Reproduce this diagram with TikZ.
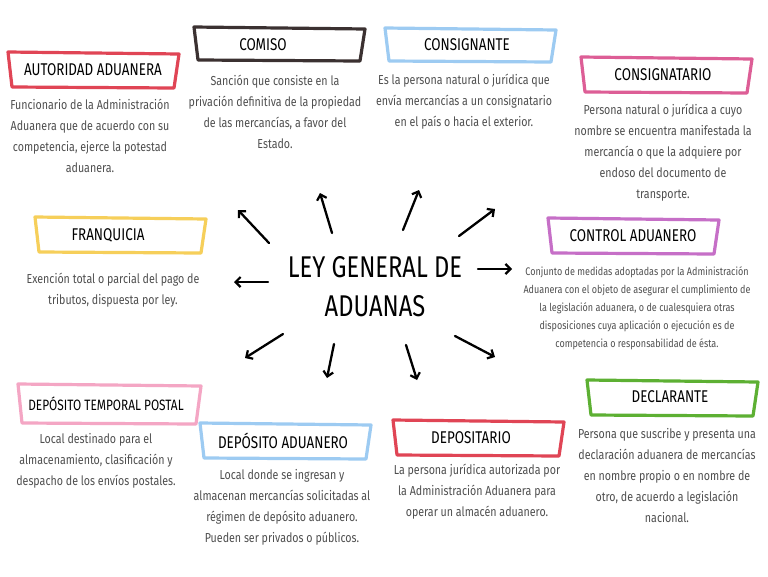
\documentclass[tikz,border=0pt]{standalone}
\usepackage{fontspec}
\setmainfont{Fira Sans}
\newfontfamily\ttlfont[FakeStretch=0.79]{Fira Sans}
\newfontfamily\bigfont[FakeStretch=0.79]{Fira Sans}
\newfontfamily\bdfont[FakeStretch=0.82]{Fira Sans}
\usetikzlibrary{arrows.meta}
\definecolor{cred}{HTML}{E04555}
\definecolor{cdark}{HTML}{3B3131}
\definecolor{cblue}{HTML}{9DCBF2}
\definecolor{cpink}{HTML}{DD5E96}
\definecolor{cyellow}{HTML}{F6CF5A}
\definecolor{cpurple}{HTML}{C66FC7}
\definecolor{clpink}{HTML}{F4A6C4}
\definecolor{cgreen}{HTML}{5DB033}
\definecolor{txtgray}{HTML}{4F4F4F}
\tikzset{
  ttl/.style={font=\ttlfont\fontsize{17}{19}\selectfont, text=black, inner sep=0pt},
  ttlsmall/.style={ttl, font=\ttlfont\fontsize{15}{17}\selectfont},
  desc/.style={font=\bdfont\fontsize{13}{21}\selectfont, text=txtgray, align=center, inner sep=0pt, anchor=base},
  descsmall/.style={desc, font=\bdfont\fontsize{11}{18}\selectfont},
  bigttl/.style={font=\bigfont\fontsize{30}{39}\selectfont, text=black, align=center, inner sep=0pt},
  ray/.style={line width=2.3pt, line cap=round, -{Straight Barb[length=5pt,width=10pt,line width=2.2pt]}},
  hbox/.style={line width=3.2pt, line join=round, line cap=round},
}
\newcommand\handbox[5]{%
  \draw[hbox,draw=#5,shift={(#1,#2)}] (-#3,-#4) -- ({#3+3},{-#4+2}) -- ({#3-2},#4) -- ({-#3+4},{#4-1}) -- cycle;}
\begin{document}
\begin{tikzpicture}[x=1pt,y=-1pt]
\useasboundingbox[fill=white] (0,0) rectangle (768,576);

% boxes
\handbox{92}{70}{84}{18}{cred}
\handbox{278}{44}{84}{17}{cdark}
\handbox{469}{45}{84}{17}{cblue}
\handbox{665}{75}{84}{18}{cpink}
\handbox{119}{235}{84}{18}{cyellow}
\handbox{632}{236}{84}{18}{cpurple}
\handbox{108}{404}{90}{20}{clpink}
\handbox{284}{441}{84}{18}{cblue}
\handbox{477}{438}{84}{18}{cred}
\handbox{671}{398}{84}{18}{cgreen}

% titles
\node[ttl] (tAut) at (93,70) {AUTORIDAD ADUANERA};
\node[ttl] (tCom) at (263,45) {COMISO};
\node[ttl] (tCns) at (467,45) {CONSIGNANTE};
\node[ttl] (tCnt) at (663,75) {CONSIGNATARIO};
\node[ttl] (tFra) at (108,235) {FRANQUICIA};
\node[ttl] (tCtl) at (633,236) {CONTROL ADUANERO};
\node[ttlsmall] (tDtp) at (106,404) {DEPÓSITO TEMPORAL POSTAL};
\node[ttl] (tDad) at (283,441) {DEPÓSITO ADUANERO};
\node[ttl] (tDep) at (471,438) {DEPOSITARIO};
\node[ttl] (tDec) at (670,397) {DECLARANTE};

\node[bigttl] (center) at (375,287) {LEY GENERAL DE\\ADUANAS};

% descriptions (anchored at the baseline of the last line)
\node[desc] (dAut) at (90,172) {Funcionario de la Administración\\Aduanera que de acuerdo con su\\competencia, ejerce la potestad\\aduanera.};
\node[desc] (dCom) at (275,148) {Sanción que consiste en la\\privación definitiva de la propiedad\\de las mercancías, a favor del\\Estado.};
\node[desc] (dCns) at (464,126) {Es la persona natural o jurídica que\\envía mercancías a un consignatario\\en el país o hacia el exterior.};
\node[desc] (dCnt) at (663,198) {Persona natural o jurídica a cuyo\\nombre se encuentra manifestada la\\mercancía o que la adquiere por\\endoso del documento de\\transporte.};
\node[desc] (dFra) at (113,304) {Exención total o parcial del pago de\\tributos, dispuesta por ley.};
\node[descsmall] (dCtl) at (637,347) {Conjunto de medidas adoptadas por la Administración\\Aduanera con el objeto de asegurar el cumplimiento de\\la legislación aduanera, o de cualesquiera otras\\disposiciones cuya aplicación o ejecución es de\\competencia o responsabilidad de ésta.};
\node[desc] (dDtp) at (96,485) {Local destinado para el\\almacenamiento, clasificación y\\despacho de los envíos postales.};
\node[desc] (dDad) at (282,542) {Local donde se ingresan y\\almacenan mercancías solicitadas al\\régimen de depósito aduanero.\\Pueden ser privados o públicos.};
\node[desc] (dDep) at (477,516) {La persona jurídica autorizada por\\la Administración Aduanera para\\operar un almacén aduanero.};
\node[desc] (dDec) at (667,522) {Persona que suscribe y presenta una\\declaración aduanera de mercancías\\en nombre propio o en nombre de\\otro, de acuerdo a legislación\\nacional.};

% arrow coordinates
\coordinate (s1) at (269,243); \coordinate (e1) at (238,210);
\coordinate (s2) at (332,233); \coordinate (e2) at (320,193);
\coordinate (s3) at (403,230); \coordinate (e3) at (419,190);
\coordinate (s4) at (459,236); \coordinate (e4) at (495,209);
\coordinate (s5) at (268,282); \coordinate (e5) at (234,282);
\coordinate (s6) at (478,269); \coordinate (e6) at (512,269);
\coordinate (s7) at (283,334); \coordinate (e7) at (245,358);
\coordinate (s8) at (334,344); \coordinate (e8) at (327,378);
\coordinate (s9) at (406,345); \coordinate (e9) at (417,380);
\coordinate (s10) at (455,336); \coordinate (e10) at (495,357);
\foreach \i in {1,...,10} \draw[ray] (s\i) -- (e\i);
\end{tikzpicture}
\end{document}
